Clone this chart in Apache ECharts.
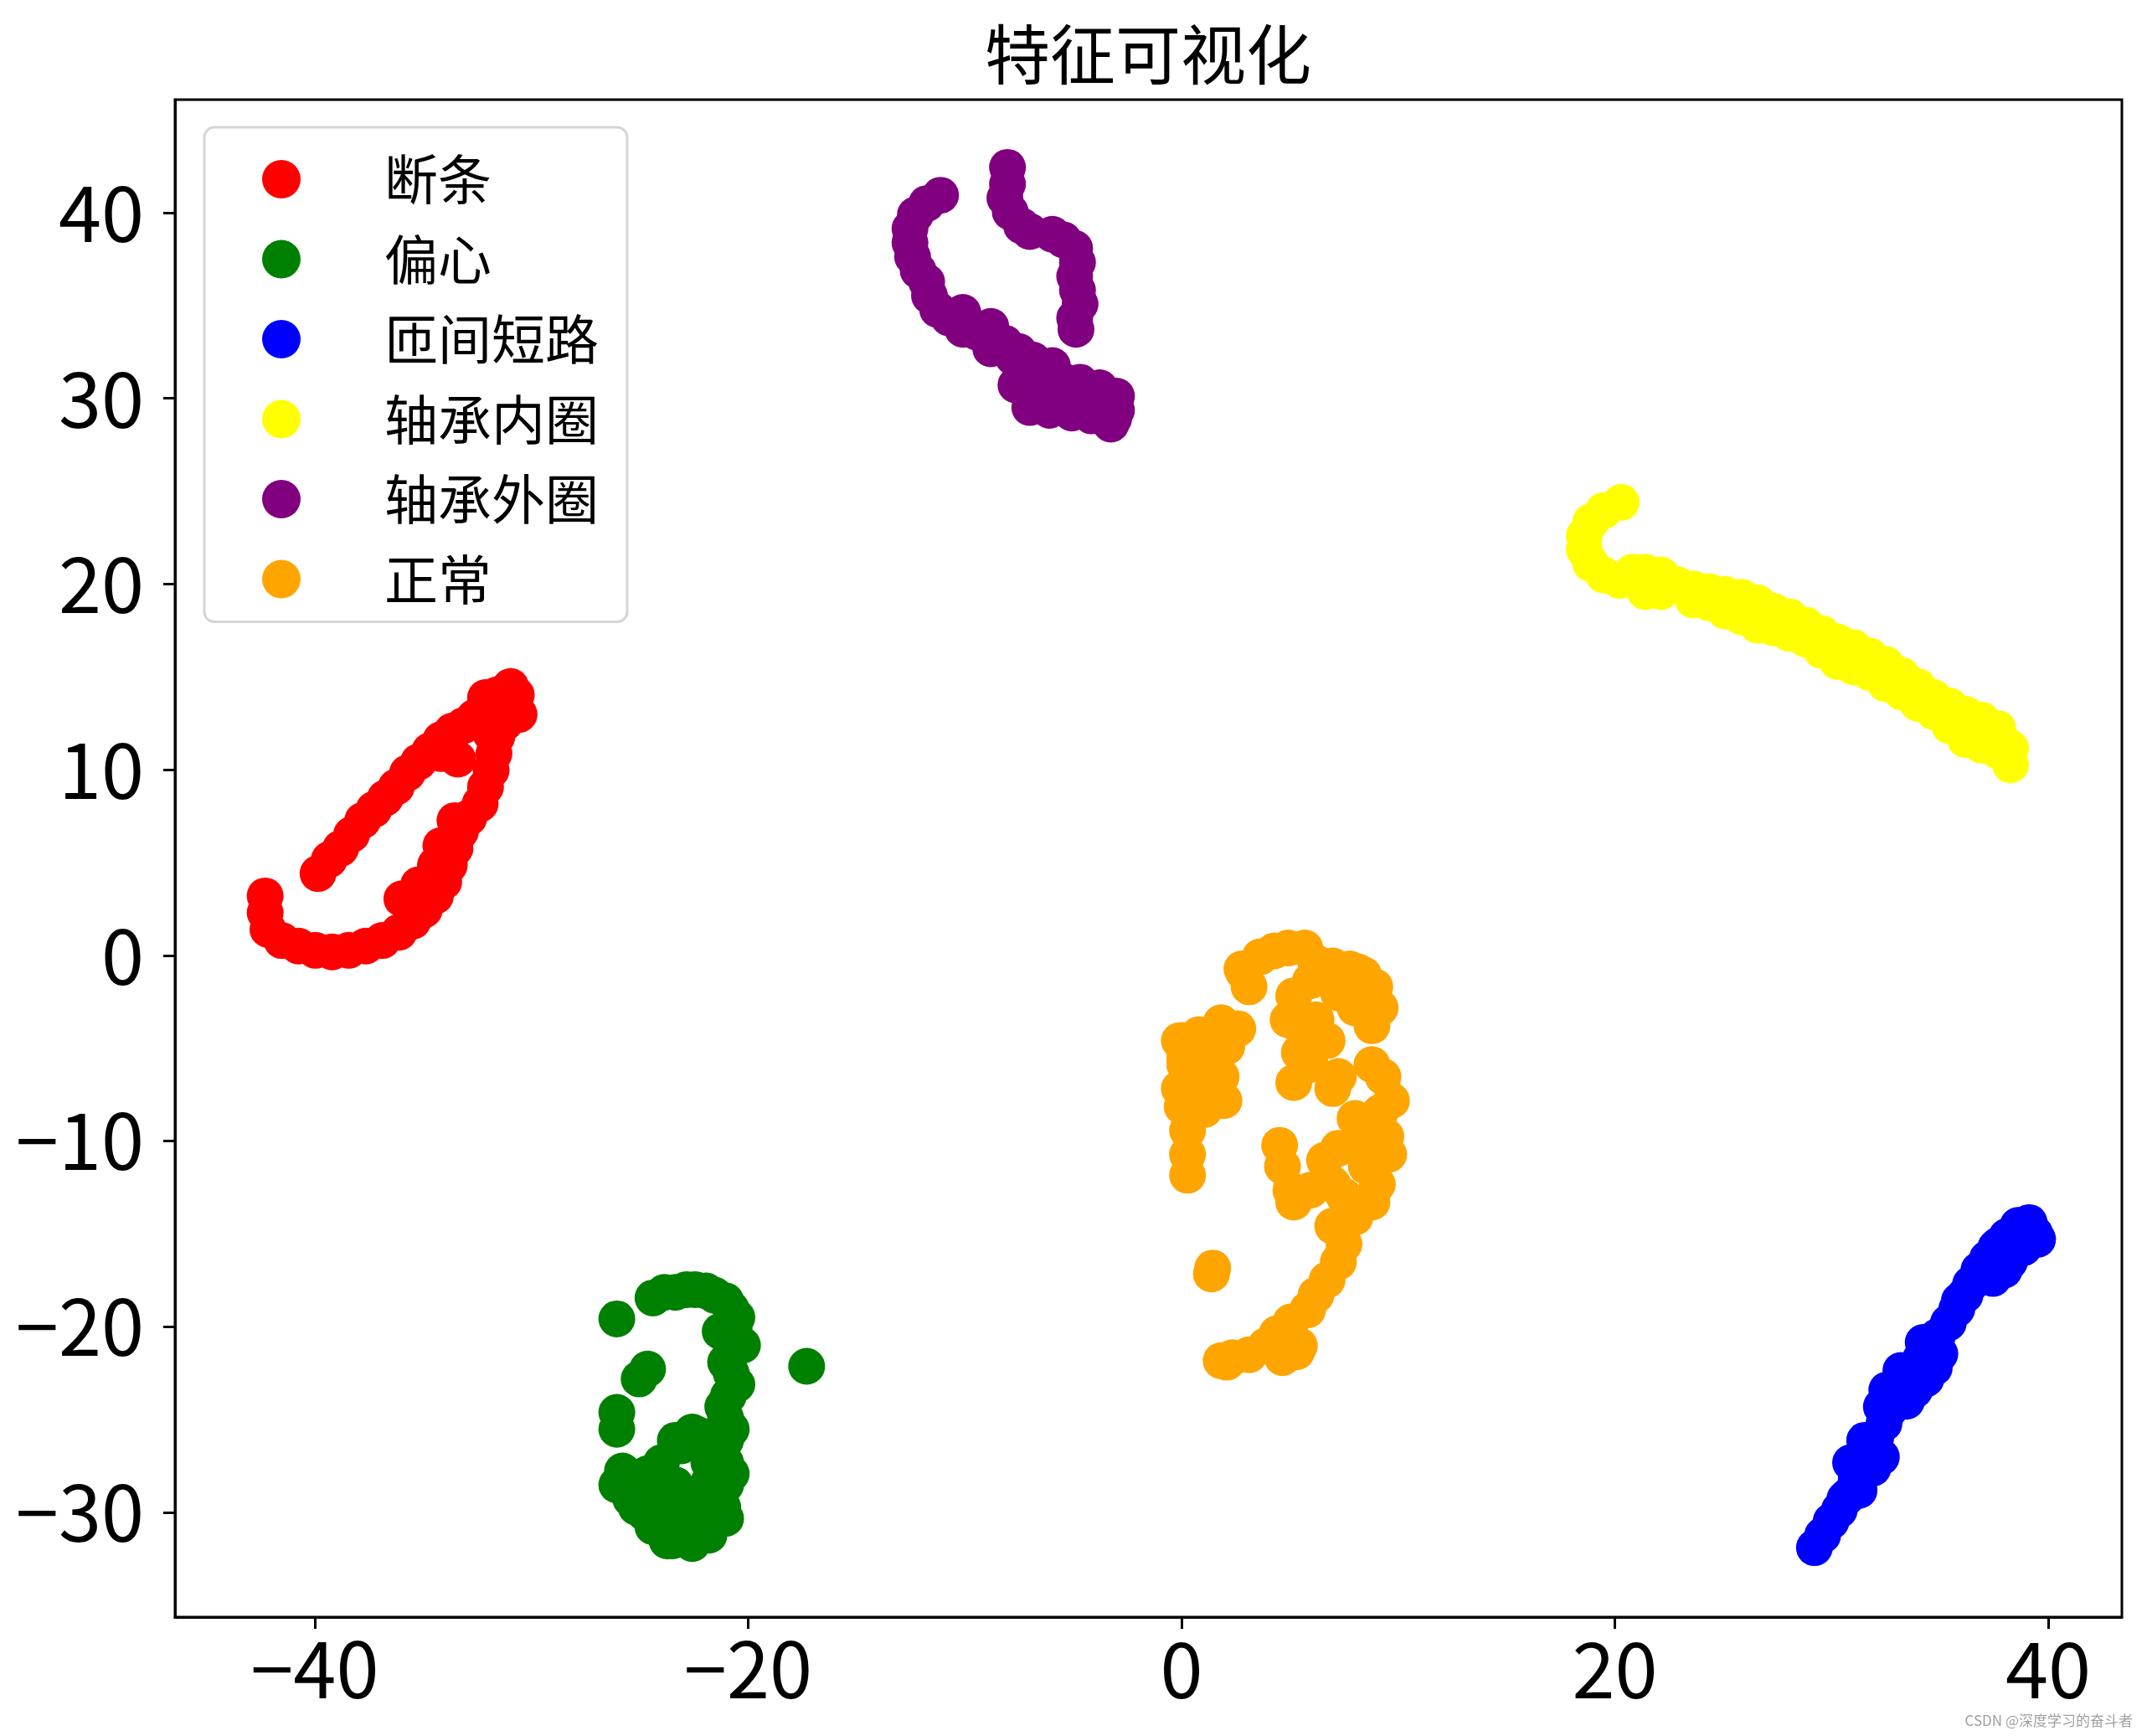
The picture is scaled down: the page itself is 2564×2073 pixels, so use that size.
<!DOCTYPE html>
<html>
<head>
<meta charset="utf-8">
<script src="https://cdn.jsdelivr.net/npm/echarts@6/dist/echarts.min.js"></script>
<style>
html,body{margin:0;padding:0;background:#fff;}
#chart{width:2564px;height:2073px;}
</style>
</head>
<body>
<div id="chart"></div>
<script>
// ---- data ----
const titleText = '特征可视化';
const categories = ['断条', '偏心', '匝间短路', '轴承内圈', '轴承外圈', '正常'];
const colors = ['#ff0000', '#008000', '#0000ff', '#ffff00', '#800080', '#ffa500'];
const xTicks = [-40, -20, 0, 20, 40];
const yTicks = [-30, -20, -10, 0, 10, 20, 30, 40];

const duanTiao = [
  [-42.29,3.2],[-42.29,2.3],[-42.16,1.4],[-41.52,0.8],[-40.75,0.5],[-39.97,0.27],[-39.2,0.19],
  [-38.43,0.27],[-37.65,0.5],[-36.88,0.8],[-36.11,1.25],[-35.47,1.85],[-34.95,2.45],[-34.43,3.2],
  [-34.05,3.96],[-33.79,4.86],[-33.53,5.76],[-33.28,6.66],[-32.89,7.41],[-32.37,8.16],[-32.12,9.07],
  [-31.86,9.97],[-31.73,10.87],[-31.6,11.77],[-31.22,12.53],[-30.83,13.27],[-30.7,14.03],
  [-35.98,3.05],[-35.21,3.8],[-34.43,4.86],[-34.18,5.91],[-33.53,7.26],
  [-30.96,14.48],[-30.57,12.98],[-32.12,13.88],[-31.86,11.92],
  [-39.85,4.41],[-39.33,5.16],[-38.81,5.76],[-38.3,6.51],[-37.79,7.26],[-37.27,7.86],[-36.75,8.47],
  [-36.24,9.07],[-35.72,9.82],[-35.21,10.42],[-34.69,11.02],[-34.18,11.62],[-33.66,12.08],
  [-33.15,12.37],[-32.63,12.82],[-32.12,13.43],[-31.6,14.03],[-31.08,14.33],
  [-34.18,10.87],[-33.4,10.57]
];
const pianXin = [
  [-26.06,-19.58],[-24.64,-22.28],[-25.03,-22.81],[-26.06,-24.61],[-26.06,-25.52],[-17.3,-22.13],
  [-24.39,-18.45],[-23.87,-18.15],[-23.36,-18.15],[-22.84,-18.0],[-22.45,-18.0],[-21.94,-18.07],
  [-21.55,-18.3],[-21.04,-18.6],[-20.78,-19.05],[-20.52,-19.5],[-20.65,-20.1],[-21.29,-20.25],
  [-20.26,-21.0],[-20.78,-21.3],[-21.04,-21.91],[-20.78,-22.51],[-20.52,-23.11],[-20.91,-23.71],
  [-21.17,-24.31],[-21.04,-24.91],[-20.78,-25.52],[-21.04,-26.12],[-21.29,-26.72],[-21.04,-27.32],
  [-20.78,-27.92],[-21.04,-28.52],[-21.29,-29.12],[-21.17,-29.73],[-21.04,-30.33],[-21.81,-31.23],
  [-22.2,-30.78],[-22.58,-31.68],[-23.49,-31.53],[-23.74,-31.53],[-24.0,-30.93],[-24.39,-30.78],
  [-24.77,-30.03],[-25.16,-29.73],[-25.42,-29.27],[-26.06,-28.52],[-25.8,-27.77],[-24.64,-27.92],
  [-24.26,-27.77],[-24.0,-27.32],[-23.36,-26.12],[-23.1,-26.42],[-22.58,-25.67],[-22.33,-25.81],
  [-21.81,-28.37],[-22.84,-29.12],[-22.33,-29.12],[-22.07,-30.03],[-23.1,-30.33],[-21.55,-27.02],
  [-21.81,-27.32],[-23.36,-28.52],[-24.39,-28.82],[-23.49,-29.73]
];
const zaJian = [
  [29.21,-31.9],[29.59,-31.23],[29.98,-30.48],[30.36,-29.87],[30.75,-29.12],[31.14,-28.22],
  [31.53,-27.47],[31.78,-26.72],[32.04,-25.97],[32.42,-25.21],[32.68,-24.46],[32.94,-23.71],
  [33.33,-22.96],[33.71,-22.36],[34.1,-21.75],[34.48,-21.15],[34.87,-20.55],[35.39,-19.8],
  [35.78,-19.05],[36.16,-18.3],[36.42,-17.7],[36.8,-16.95],[37.19,-16.34],[37.58,-15.74],
  [38.09,-15.14],[38.61,-14.54],[39.12,-14.39],[39.38,-14.99],[38.87,-15.74],[38.22,-16.49],
  [37.45,-17.4],
  [33.46,-24.01],[33.84,-23.41],[34.36,-22.81],[34.74,-22.21],[35.0,-21.46],[34.23,-20.85],
  [33.2,-22.36],[32.55,-23.41],[32.3,-24.31],[31.91,-27.62],[32.3,-27.02],[31.27,-28.82],
  [30.62,-29.27],[30.88,-27.32],[31.53,-26.12],[39.51,-15.29],[37.97,-16.95],[35.9,-18.6],
  [37.71,-15.59]
];
const neiQuan = [
  [20.29,24.4],[19.48,23.95],[18.89,23.35],[18.59,22.6],[18.59,21.85],[18.89,21.09],[19.48,20.49],
  [20.22,20.19],[20.81,20.64],[21.4,20.64],[21.4,19.59],
  [22.14,20.49],[22.14,19.59],[22.88,19.97],[23.62,19.74],[23.62,19.14],[24.36,19.59],[24.36,18.99],
  [25.1,19.44],[25.1,18.54],[25.84,19.29],[25.84,18.24],[26.58,18.99],[26.58,17.79],[27.32,18.54],
  [27.32,17.64],[28.06,18.24],[28.06,17.34],[28.8,17.79],[28.8,17.04],[29.54,17.34],[29.54,16.43],
  [30.28,16.88],[30.28,15.83],[31.02,16.58],[31.02,15.53],[31.76,16.13],[31.76,15.23],[32.5,15.68],
  [32.5,14.63],[33.24,15.08],[33.24,14.18],[33.98,14.48],[33.98,13.58],[34.71,13.88],[34.71,13.13],
  [35.45,13.43],[35.45,12.37],[36.19,12.98],[36.19,11.62],[36.93,12.67],[36.93,11.32],[37.67,12.22],
  [37.67,11.02],[38.26,11.17],[38.26,10.27]
];
const waiQuan = [
  [-8.03,42.44],[-8.03,41.54],[-8.15,40.79],[-7.9,40.04],[-7.38,39.29],[-7.0,38.99],[-5.96,38.84],
  [-5.45,38.54],[-4.93,38.08],[-4.8,37.33],[-4.93,36.58],[-4.8,35.83],[-4.68,35.08],[-4.93,34.33],
  [-4.87,33.72],
  [-11.12,40.94],[-11.76,40.49],[-12.28,39.89],[-12.53,39.14],[-12.53,38.39],[-12.41,37.63],
  [-12.15,36.88],[-11.76,36.28],[-11.63,35.53],[-11.25,34.78],[-10.73,34.33],[-10.09,34.03],
  [-9.44,33.57],[-8.8,33.27],[-8.15,32.97],[-7.51,32.52],[-6.87,32.07],[-6.22,31.62],[-5.58,31.02],
  [-4.93,30.57],[-4.29,30.27],[-3.64,29.82],[-3.0,29.36],[-3.26,28.76],
  [-10.09,34.63],[-10.09,33.72],[-8.8,33.88],[-8.8,32.67],[-7.77,32.22],[-6.74,31.92],[-5.96,31.77],
  [-7.64,30.72],[-6.74,30.57],[-5.71,30.72],[-4.68,30.87],[-3.78,30.57],[-3.0,30.12],[-7.0,29.51],
  [-6.09,29.36],[-5.06,29.21],[-4.16,29.06],[-3.13,28.91],[-3.26,28.61]
];
const zhengChang = [
  [0.03,-4.59],[0.8,-4.27],[1.83,-3.63],[2.6,-3.95],[2.09,-4.92],[0.15,-5.88],[1.19,-5.72],
  [1.83,-6.53],[-0.1,-7.17],[0.8,-7.01],[1.96,-7.82],[0.03,-8.14],[1.06,-8.3],[0.28,-9.43],
  [0.28,-10.72],[0.28,-11.84],[-0.1,-4.6],[0.15,-5.56],
  [2.86,-0.89],[3.12,-1.69],[3.63,-0.08],[4.28,0.24],[4.92,0.4],[5.69,0.4],[6.21,-0.41],[6.98,-0.57],
  [7.76,-0.73],[8.4,-1.05],[8.92,-1.69],[9.17,-2.82],[8.79,-3.79],[8.01,-2.82],[7.24,-2.02],
  [5.95,-1.37],[5.18,-2.18],[4.92,-3.47],[5.44,-3.79],[6.21,-3.47],[6.72,-4.59],[5.44,-5.24],
  [5.95,-5.88],[7.24,-6.53],[5.18,-6.85],[6.98,-7.17],[2.79,-0.73],[8.14,-0.89],
  [8.79,-5.88],[9.3,-6.53],[9.69,-7.82],[8.01,-8.78],[9.17,-8.46],[9.43,-9.75],[9.56,-10.72],
  [8.01,-10.07],[7.24,-10.39],[6.6,-11.04],[8.53,-11.36],[9.04,-12.33],[5.18,-13.29],[5.95,-12.65],
  [6.98,-12.33],[7.5,-12.97],[8.79,-13.29],[8.01,-14.1],[6.98,-14.58],[7.5,-15.55],[7.24,-16.51],
  [6.72,-17.48],[6.21,-18.29],[5.82,-19.09],[5.05,-19.74],[4.41,-20.38],[5.44,-21.03],[3.89,-21.03],
  [3.12,-21.51],[2.35,-21.67],[1.83,-21.83],[2.09,-21.91],[4.66,-21.67],[5.31,-21.35],
  [4.53,-10.23],[4.66,-11.36],[5.05,-12.65],
  [1.44,-16.84],[1.38,-17.16]
];
const seriesData = [duanTiao, pianXin, zaJian, neiQuan, waiQuan, zhengChang];

// ---- chart ----
const FONT = 'SimHei, "Noto Sans CJK SC", sans-serif';
const fmt = v => (v < 0 ? '\u2212' + Math.abs(v) : String(v));
const chart = echarts.init(document.getElementById('chart'), null, {renderer: 'canvas'});
chart.setOption({
  animation: false,
  backgroundColor: '#ffffff',
  title: {
    text: titleText,
    left: 1176, top: 26, padding: 0,
    textStyle: {fontFamily: FONT, fontSize: 78, fontWeight: 'normal', color: '#000'}
  },
  legend: {
    orient: 'vertical',
    left: 244, top: 152,
    padding: [30, 34, 19, 69],
    itemWidth: 46, itemHeight: 46, itemGap: 31.5,
    icon: 'circle',
    backgroundColor: 'rgba(255,255,255,0.8)',
    borderColor: '#d5d5d5', borderWidth: 3, borderRadius: 12,
    textStyle: {fontFamily: FONT, fontSize: 64, lineHeight: 64, color: '#000', padding: [0, 0, 0, 95]},
    data: categories
  },
  grid: {
    left: 209, right: 30, top: 119, bottom: 142,
    show: true, borderColor: '#000', borderWidth: 3, backgroundColor: 'transparent'
  },
  xAxis: {
    type: 'value', min: -46.45, max: 43.4,
    axisLine: {show: true, onZero: false, lineStyle: {color: '#000', width: 3}},
    axisTick: {show: true, length: 14, lineStyle: {color: '#000', width: 3}, customValues: xTicks},
    axisLabel: {customValues: xTicks, formatter: fmt, fontFamily: FONT, fontSize: 92, color: '#000', margin: 16},
    splitLine: {show: false}
  },
  yAxis: {
    type: 'value', min: -35.64, max: 46.09,
    axisLine: {show: true, onZero: false, lineStyle: {color: '#000', width: 3}},
    axisTick: {show: true, length: 14, lineStyle: {color: '#000', width: 3}, customValues: yTicks},
    axisLabel: {customValues: yTicks, formatter: fmt, fontFamily: FONT, fontSize: 92, color: '#000', margin: 37},
    splitLine: {show: false}
  },
  graphic: [{
    type: 'text', right: 17, top: 2046,
    style: {text: 'CSDN @深度学习的奋斗者', fontFamily: '"Noto Sans CJK SC", sans-serif', fontSize: 17, fill: '#a0a0a0'}
  }],
  series: categories.map((name, i) => ({
    name: name,
    type: 'scatter',
    symbol: 'circle',
    symbolSize: 44,
    itemStyle: {color: colors[i], opacity: 1},
    emphasis: {disabled: true},
    data: seriesData[i]
  }))
});
</script>
</body>
</html>
